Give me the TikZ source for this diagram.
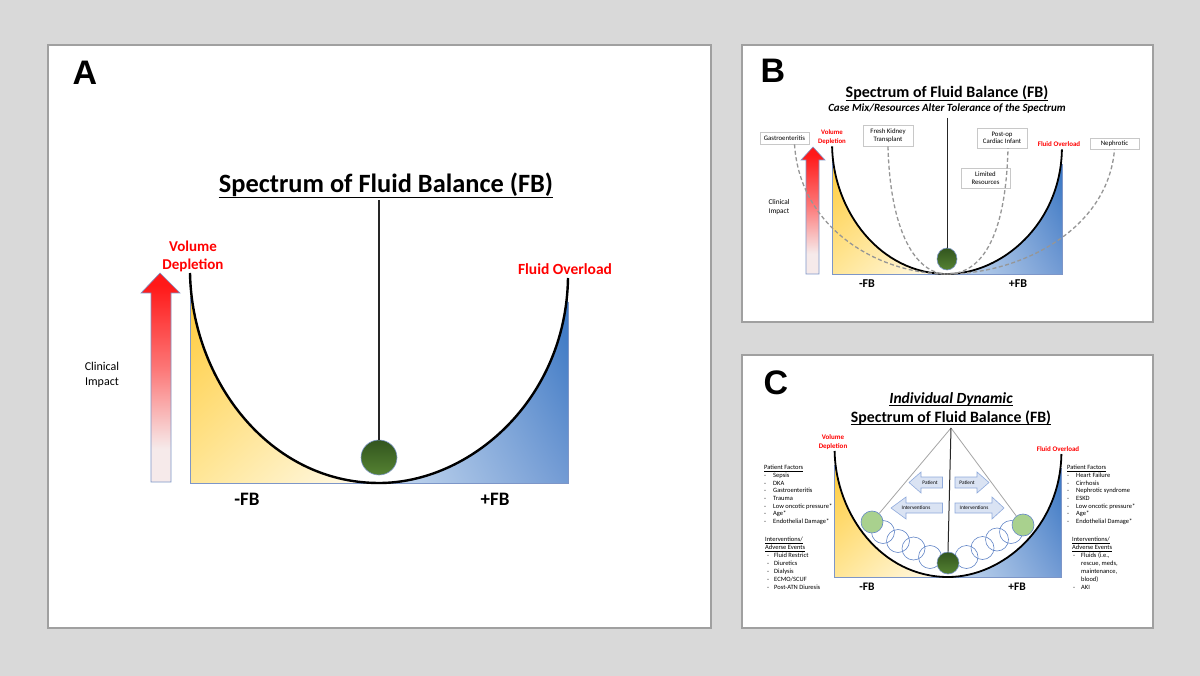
\documentclass[tikz,border=0pt]{standalone}
\usepackage{fontspec}
\setmainfont{Carlito}
\newfontfamily\letterfont{Liberation Sans}
\usetikzlibrary{shapes.geometric,calc,shadings}

\definecolor{bgc}{RGB}{217,217,217}
\definecolor{panelborder}{RGB}{160,160,160}
\definecolor{gold}{RGB}{255,200,50}
\definecolor{goldmid}{RGB}{255,226,135}
\definecolor{goldlow}{RGB}{255,230,150}
\definecolor{cream}{RGB}{255,251,240}
\definecolor{blueA}{RGB}{47,112,192}
\definecolor{blueM}{RGB}{115,155,212}
\definecolor{blueL}{RGB}{175,200,232}
\definecolor{blueLL}{RGB}{200,219,240}
\definecolor{edgeblue}{RGB}{125,150,200}
\definecolor{redtop}{RGB}{255,25,25}
\definecolor{redmid}{RGB}{252,120,120}
\definecolor{pale}{RGB}{246,234,234}
\definecolor{balltop}{RGB}{50,85,30}
\definecolor{ballbot}{RGB}{85,130,50}
\definecolor{lightgreen}{RGB}{169,209,142}
\definecolor{arrowfill}{RGB}{218,227,243}
\definecolor{arrowedge}{RGB}{143,170,220}
\definecolor{ringblue}{RGB}{100,135,200}
\definecolor{dashgray}{RGB}{150,150,150}
\definecolor{boxgray}{RGB}{200,200,200}
\definecolor{linegray}{RGB}{165,165,165}

\pgfdeclareverticalshading{redarrow}{100bp}{color(0bp)=(pale); color(25bp)=(pale); color(33bp)=(pale); color(52bp)=(redmid); color(72bp)=(redtop); color(100bp)=(redtop)}

\newcommand\fluidU[1]{%
 \begin{scope}
  \clip (-189,-186) rectangle (0,1);
  \shade[upper left=gold, upper right=goldmid, lower left=goldlow, lower right=cream]
   (-189,-210) .. controls (-187,-103) and (-110,0) .. (0,0) -- (-189,0) -- cycle;
 \end{scope}
 \begin{scope}
  \clip (0,-181) rectangle (189,1);
  \shade[upper left=blueL, upper right=blueA, lower left=blueLL, lower right=blueM]
   (0,0) .. controls (91,0) and (187,-83) .. (189,-205) -- (189,0) -- cycle;
 \end{scope}
 \draw[edgeblue, line width=0.6pt] (-189,-186) -- (-189,0) -- (189,0) -- (189,-181);
 \draw[line width=#1] (-189,-210) .. controls (-187,-103) and (-110,0) .. (0,0) .. controls (91,0) and (187,-83) .. (189,-205);
}

\tikzset{
  panel/.style={draw=panelborder, line width=1.5pt, fill=white},
  pend/.style={draw=black!85, line width=1.3pt},
  ballnode/.style={ellipse, draw=edgeblue, line width=0.6pt, top color=balltop, bottom color=ballbot, inner sep=0},
  letter/.style={font=\letterfont\bfseries\fontsize{34}{34}\selectfont, inner sep=0},
  redarrowstyle/.style={shading=redarrow, draw=edgeblue, line width=0.6pt},
  casebox/.style={draw=boxgray, fill=white, line width=0.6pt, align=center, inner sep=0.5pt, font=\fontsize{6.8}{7.6}\selectfont},
  dashcurve/.style={draw=dashgray, line width=1.3pt, dash pattern=on 4pt off 2.5pt},
  ring/.style={circle, draw=ringblue, line width=0.6pt, minimum size=23pt, inner sep=0},
  greenball/.style={circle, draw=ringblue, line width=0.6pt, fill=lightgreen, minimum size=22pt, inner sep=0},
  blockarrow/.style={draw=arrowedge, fill=arrowfill, line width=0.6pt},
  arrowtext/.style={font=\fontsize{5.3}{6}\selectfont, inner sep=0},
  listtext/.style={font=\fontsize{6.3}{7.7}\selectfont, align=left, inner sep=0, anchor=north west},
}

\begin{document}
\begin{tikzpicture}[x=1pt,y=-1pt]
\useasboundingbox (0,0) rectangle (1200,676);
\fill[bgc] (0,0) rectangle (1200,676);

% ---------------- Panel A ----------------
\draw[panel] (48,45) rectangle (711,628);
\node[letter] (lA) at (85,72.5) {A};
\node[inner sep=0, anchor=base, font=\bfseries\fontsize{26.4}{30}\selectfont] (tA) at (386,193) {Spectrum of Fluid Balance (FB)};
\draw[line width=1.6pt] ([yshift=-4.5pt]tA.base west) -- ([yshift=-4.5pt]tA.base east);

\shadedraw[redarrowstyle] (151,482) -- (151,293) -- (141,293) -- (160,273) -- (180,293) -- (171,293) -- (171,482) -- cycle;
\node[font=\fontsize{12}{15}\selectfont, align=center] (ciA) at (102,374.5) {Clinical\\Impact};

\begin{scope}[shift={(379,483)}]
 \fluidU{2.4pt}
\end{scope}

\coordinate (pivA) at (379,200);
\node[ballnode, minimum width=36pt, minimum height=35pt] (ballA) at (379,457.5) {};
\draw[pend] (pivA) -- (ballA.north);

\node[text=red, font=\bfseries\fontsize{15}{18}\selectfont, align=center] (vdA) at (193,256) {Volume\\Depletion};
\node[text=red, font=\bfseries\fontsize{15.5}{18}\selectfont] (foA) at (565,269) {Fluid Overload};
\node[font=\bfseries\fontsize{19}{22}\selectfont] (mfA) at (247,499) {-FB};
\node[font=\bfseries\fontsize{19}{22}\selectfont] (pfA) at (495,499) {+FB};

% ---------------- Panel B ----------------
\draw[panel] (742,45) rectangle (1153,322);
\node[letter] (lB) at (773,70.5) {B};
\node[inner sep=0, anchor=base, font=\bfseries\fontsize{16}{18}\selectfont] (tB) at (947,98) {Spectrum of Fluid Balance (FB)};
\draw[line width=1pt] ([yshift=-2.8pt]tB.base west) -- ([yshift=-2.8pt]tB.base east);
\node[inner sep=0, anchor=base, font=\bfseries\itshape\fontsize{11}{13}\selectfont] (sB) at (947,112) {Case Mix/Resources Alter Tolerance of the Spectrum};

\shadedraw[redarrowstyle] (806,274) -- (806,160) -- (801,160) -- (813,147) -- (825,160) -- (819,160) -- (819,274) -- cycle;
\node[font=\fontsize{7.3}{9}\selectfont, align=center] (ciB) at (779,207.5) {Clinical\\Impact};

\begin{scope}[shift={(947,274)}, scale=0.608]
 \fluidU{1.8pt}
\end{scope}

\node[casebox, minimum width=49pt, minimum height=12pt] (gastro) at (784.5,138) {Gastroenteritis};
\node[casebox, minimum width=50pt, minimum height=21pt] (kidney) at (888,135.5) {Fresh Kidney\\Transplant};
\node[casebox, minimum width=50pt, minimum height=20pt] (postop) at (1002,138) {Post-op\\Cardiac Infant};
\node[casebox, minimum width=49pt, minimum height=11pt] (nephro) at (1114.5,143.5) {Nephrotic};
\node[casebox, minimum width=49pt, minimum height=20pt] (limited) at (985.5,178) {Limited\\Resources};

\coordinate (botB) at (947,274);
\draw[dashcurve] ($(gastro.south)+(10,0)$) .. controls (800,230) and (880,274) .. (botB) .. controls (1020,274) and (1108,230) .. (nephro.south);
\draw[dashcurve] (kidney.south) .. controls (890,230) and (915,274) .. (botB) .. controls (985,274) and (1006,230) .. ($(postop.south)+(6,0)$);

\coordinate (pivB) at (947,118);
\node[ballnode, minimum width=20pt, minimum height=22pt] (ballB) at (947,259) {};
\draw[pend, line width=1pt] (pivB) -- (ballB.north);

\node[text=red, font=\bfseries\fontsize{6.8}{9.5}\selectfont, align=center] (vdB) at (832,137) {Volume\\Depletion};
\node[text=red, font=\bfseries\fontsize{7}{8}\selectfont] (foB) at (1059,144) {Fluid Overload};
\node[font=\bfseries\fontsize{12}{14}\selectfont] (mfB) at (867,284) {-FB};
\node[font=\bfseries\fontsize{12}{14}\selectfont] (pfB) at (1018,284) {+FB};

% ---------------- Panel C ----------------
\draw[panel] (742,355) rectangle (1153,628);
\node[letter] (lC) at (776,382.5) {C};
\node[inner sep=0, anchor=base, font=\bfseries\itshape\fontsize{15.5}{18}\selectfont] (tC1) at (951,403) {Individual Dynamic};
\draw[line width=1pt] ([yshift=-2.8pt]tC1.base west) -- ([yshift=-2.8pt]tC1.base east);
\node[inner sep=0, anchor=base, font=\bfseries\fontsize{15.8}{18}\selectfont] (tC2) at (951,422) {Spectrum of Fluid Balance (FB)};
\draw[line width=1pt] ([yshift=-2.8pt]tC2.base west) -- ([yshift=-2.8pt]tC2.base east);

\begin{scope}[shift={(948,577)}, scale=0.6]
 \fluidU{1.8pt}
\end{scope}

\coordinate (apexC) at (951,428);
% chain of rings
\foreach \n/\x/\y in {l1/883/532, l2/898/541, l3/913.5/548.5, l4/930/557, r1/966.5/557, r2/982.5/548, r3/997/539.5, r4/1011/532}
  \node[ring] (ring\n) at (\x,\y) {};
\node[greenball] (gL) at (872,522) {};
\node[greenball] (gR) at (1023,525) {};
\draw[linegray, line width=0.8pt] (apexC) -- (gL);
\draw[linegray, line width=0.8pt] (apexC) -- (gR);
\node[circle, draw=edgeblue, line width=0.6pt, top color=balltop, bottom color=ballbot, minimum size=22pt, inner sep=0] (ballC) at (948,563) {};
\draw[pend, line width=1pt] (apexC) -- (ballC.north);

% block arrows
\draw[blockarrow] (942.5,477) -- (921,477) -- (921,472) -- (909,482.5) -- (921,493) -- (921,488) -- (942.5,488) -- cycle;
\node[arrowtext] (apL) at (930,482.5) {Patient};
\draw[blockarrow] (942.5,503) -- (906,503) -- (906,497) -- (891,508) -- (906,519) -- (906,513) -- (942.5,513) -- cycle;
\node[arrowtext] (aiL) at (916,508) {Interventions};
\draw[blockarrow] (955,477) -- (977,477) -- (977,472) -- (989,482.5) -- (977,493) -- (977,488) -- (955,488) -- cycle;
\node[arrowtext] (apR) at (967,482.5) {Patient};
\draw[blockarrow] (955,503) -- (992,503) -- (992,497) -- (1004,508) -- (992,519) -- (992,513) -- (955,513) -- cycle;
\node[arrowtext] (aiR) at (974,508) {Interventions};

\node[text=red, font=\bfseries\fontsize{7}{9}\selectfont, align=center] (vdC) at (833,442.5) {Volume\\Depletion};
\node[text=red, font=\bfseries\fontsize{7}{8}\selectfont] (foC) at (1058,449) {Fluid Overload};
\node[font=\bfseries\fontsize{11.5}{14}\selectfont] (mfC) at (867,587) {-FB};
\node[font=\bfseries\fontsize{11.5}{14}\selectfont] (pfC) at (1017,587) {+FB};

% lists
\node[listtext, font=\fontsize{6.5}{7.7}\selectfont] (pfL) at (764,465) {\underline{Patient Factors}\\
\makebox[9pt][l]{-}Sepsis\\
\makebox[9pt][l]{-}DKA\\
\makebox[9pt][l]{-}Gastroenteritis\\
\makebox[9pt][l]{-}Trauma\\
\makebox[9pt][l]{-}Low oncotic pressure*\\
\makebox[9pt][l]{-}Age*\\
\makebox[9pt][l]{-}Endothelial Damage*};
\node[listtext, font=\fontsize{6.5}{7.9}\selectfont] (ivL) at (765,537) {\underline{Interventions/}\\
\underline{Adverse Events}\\
\hspace{2pt}\makebox[7pt][l]{-}Fluid Restrict\\
\hspace{2pt}\makebox[7pt][l]{-}Diuretics\\
\hspace{2pt}\makebox[7pt][l]{-}Dialysis\\
\hspace{2pt}\makebox[7pt][l]{-}ECMO/SCUF\\
\hspace{2pt}\makebox[7pt][l]{-}Post-ATN Diuresis};
\node[listtext, font=\fontsize{6.5}{7.7}\selectfont] (pfR) at (1067,465) {\underline{Patient Factors}\\
\makebox[9pt][l]{-}Heart Failure\\
\makebox[9pt][l]{-}Cirrhosis\\
\makebox[9pt][l]{-}Nephrotic syndrome\\
\makebox[9pt][l]{-}ESKD\\
\makebox[9pt][l]{-}Low oncotic pressure*\\
\makebox[9pt][l]{-}Age*\\
\makebox[9pt][l]{-}Endothelial Damage*};
\node[listtext, font=\fontsize{6.5}{7.9}\selectfont] (ivR) at (1072,537) {\underline{Interventions/}\\
\underline{Adverse Events}\\
\hspace{1pt}\makebox[8pt][l]{-}Fluids (i.e.,\\
\hspace{9pt}rescue, meds,\\
\hspace{9pt}maintenance,\\
\hspace{9pt}blood)\\
\hspace{1pt}\makebox[8pt][l]{-}AKI};
\end{tikzpicture}
\end{document}
